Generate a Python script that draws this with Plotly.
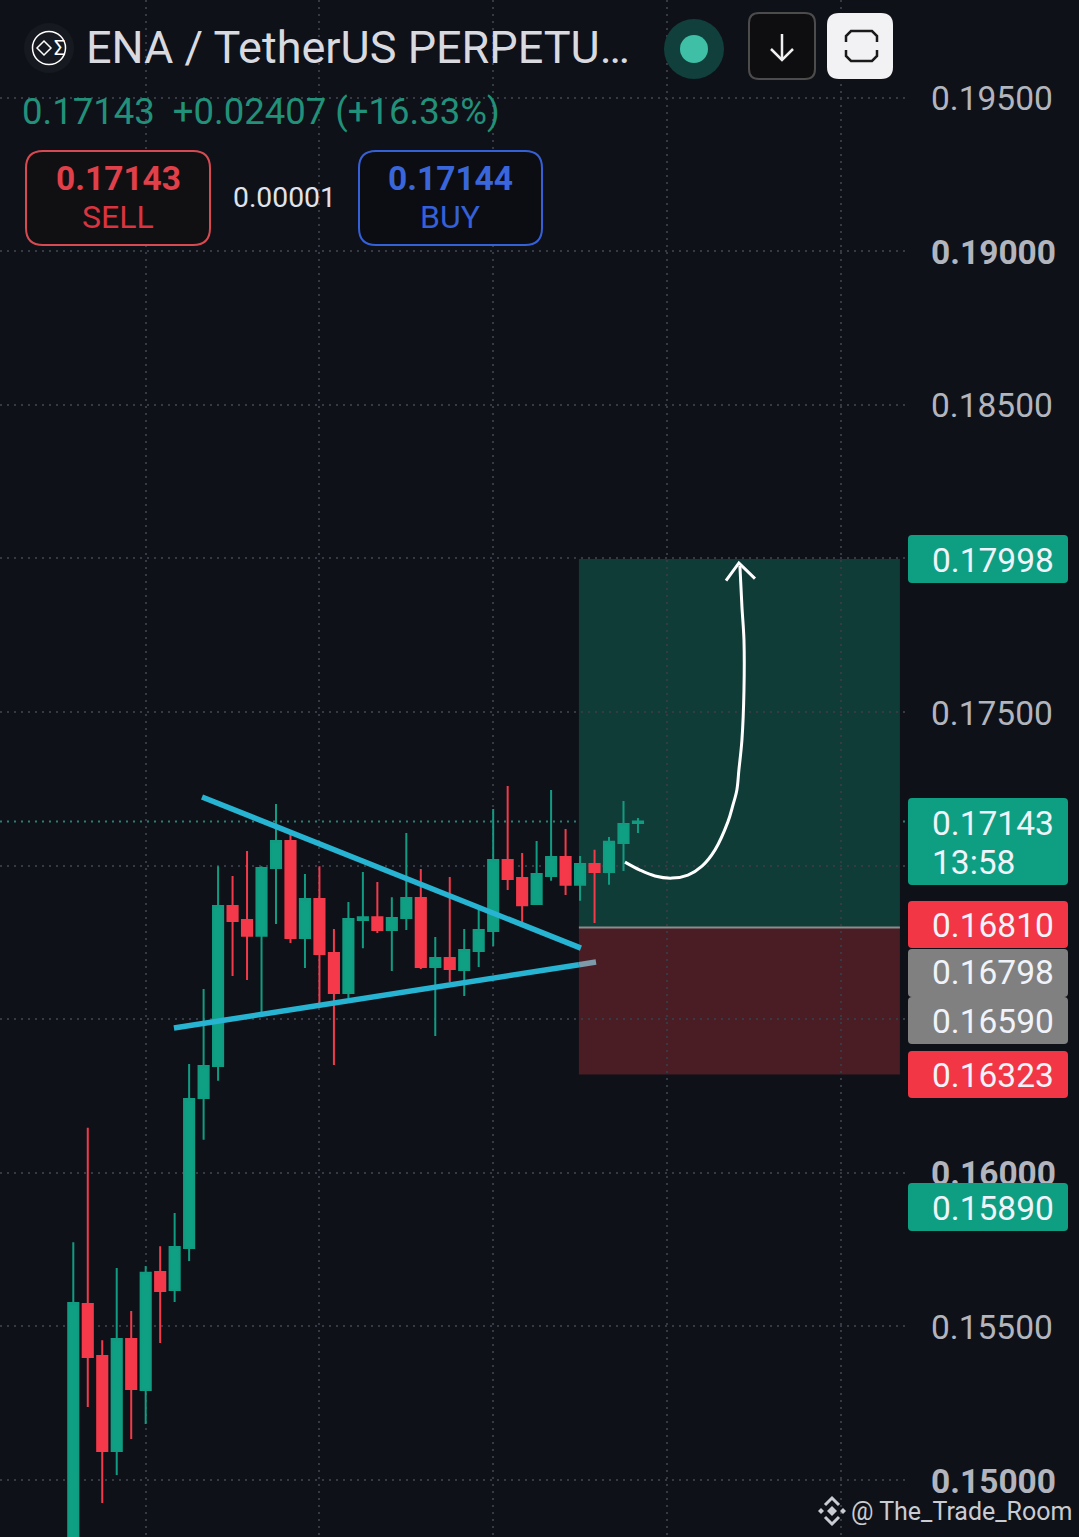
import plotly.graph_objects as go

W = 1079
H = 1537

# candles
opens = [.1461, .15573, .15403, .15094, .15459, .15293, .15677, .15618, .15755, .16243,
         .16347, .16868, .16823, .16771, .16992, .17080, .16764, .16891, .16715, .16585,
         .16823, .16832, .16790, .16829, .16894, .16670, .16699, .16660, .16722, .16787,
         .17018, .16959, .16875, .16966, .17028, .16937, .17005, .16979, .17073, .17138]
closes = [.15576, .15400, .15094, .15459, .15296, .15674, .15615, .15758, .16240, .16347,
          .16868, .16819, .16771, .16992, .17080, .16764, .16891, .16712, .16585, .16826,
          .16832, .16790, .16829, .16894, .16670, .16699, .16663, .16725, .16790, .17018,
          .16956, .16871, .16972, .17028, .16937, .17005, .16979, .17077, .17135, .17143]
highs = [.15774, .16146, .15455, .15690, .15550, .15696, .15761, .15869, .16354, .16598,
         .16998, .16966, .17047, .16998, .17200, .17116, .16972, .16998, .16793, .16881,
         .16979, .16946, .16897, .17106, .16989, .16767, .16963, .16793, .16871, .17184,
         .17259, .17041, .17080, .17246, .17119, .17031, .17051, .17093, .17210, .17155]
lows = [.1455, .15237, .14925, .15016, .15133, .15182, .15446, .15579, .15713, .16107,
        .16299, .16640, .16627, .16523, .16810, .16748, .16666, .16552, .16351, .16569,
        .16731, .16780, .16657, .16790, .16663, .16445, .16621, .16575, .16670, .16738,
        .16920, .16816, .16875, .16950, .16904, .16885, .16813, .16937, .16982, .17106]
candle_x = list(range(len(opens)))

# axis
price_ticks = [.195, .19, .185, .18, .175, .17, .165, .16, .155, .15]
price_labels = ["0.19500", "<b>0.19000</b>", "0.18500", "", "0.17500", "", "",
                "<b>0.16000</b>", "0.15500", "<b>0.15000</b>"]
time_ticks = [5, 17, 29, 41, 53]

# long position
target_price = 0.17998
entry_price = 0.16798
stop_price = 0.16320
last_price = 0.17143
box_x = [34.92, 57.09]

# drawings
upper_x = [8.89, 35.06]
upper_p = [.17223, .16731]
lower_x = [6.95, 34.92]
lower_p = [.16471, .16677]
lower_end_x = [34.92, 36.1]
lower_end_p = [.16677, .16686]
curve_x = [38.10, 39.14, 40.17, 41.35, 42.45, 43.42, 44.32, 45.21, 45.56, 45.83, 45.97, 46.18, 46.32, 46.32, 46.18, 46.04]
curve_p = [.17011, .16985, .16966, .16959, .16969, .16998, .17051, .17142, .17197, .17246, .17311, .17409, .17571, .17734, .17842, .17975]
head_x = [45.08, 45.97, 47.08]
head_p = [.17927, .17985, .17934]

# right side price tags: label, top, bottom, colour
GREEN = "#0E9F82"
RED = "#F23645"
GREY = "#808080"
tag_labels = ["0.17998", "0.17143", "0.16810", "0.16798", "0.16590", "0.16323", "0.15890"]
tag_tops = [535, 798, 901, 949, 997, 1051, 1183]
tag_bottoms = [583, 885, 948, 997, 1044, 1098, 1231]
tag_text_y = [560, 823, 925, 973, 1021, 1075, 1208]
tag_colors = [GREEN, GREEN, RED, GREY, GREY, RED, GREEN]


def px(x):
    return x / W


def py(y):
    return 1 - y / H


def round_rect(x0, y0, x1, y1, r):
    X0, X1, Y0, Y1, RX, RY = px(x0), px(x1), py(y0), py(y1), r / W, r / H
    return (f"M {X0+RX} {Y0} L {X1-RX} {Y0} Q {X1} {Y0} {X1} {Y0-RY} "
            f"L {X1} {Y1+RY} Q {X1} {Y1} {X1-RX} {Y1} L {X0+RX} {Y1} "
            f"Q {X0} {Y1} {X0} {Y1+RY} L {X0} {Y0-RY} Q {X0} {Y0} {X0+RX} {Y0} Z")


def poly(points, close=True):
    s = "M " + " L ".join(f"{px(a)} {py(b)}" for a, b in points)
    return s + (" Z" if close else "")


def paper_shape(path, fill="rgba(0,0,0,0)", line="rgba(0,0,0,0)", width=0):
    return dict(type="path", xref="paper", yref="paper", path=path, fillcolor=fill,
                line=dict(color=line, width=width), layer="above")


def circle(cx, cy, r, fill="rgba(0,0,0,0)", line="rgba(0,0,0,0)", width=0):
    return dict(type="circle", xref="paper", yref="paper", x0=px(cx - r), x1=px(cx + r),
                y0=py(cy + r), y1=py(cy - r), fillcolor=fill,
                line=dict(color=line, width=width), layer="above")


def label(text, x, y, size, color, anchor="left"):
    return dict(text=text, x=px(x), y=py(y), xref="paper", yref="paper", showarrow=False,
                xanchor=anchor, yanchor="middle", align="left",
                font=dict(family="Roboto", size=size, color=color))


fig = go.Figure()
fig.add_trace(go.Candlestick(x=candle_x, open=opens, high=highs, low=lows, close=closes,
                             whiskerwidth=0,
                             increasing=dict(line=dict(color="#119C82", width=2), fillcolor="#0F9F82"),
                             decreasing=dict(line=dict(color="#F23A4B", width=2), fillcolor="#F5394B")))
fig.add_trace(go.Scatter(x=upper_x, y=upper_p, mode="lines", line=dict(color="#27B4D2", width=5.5)))
fig.add_trace(go.Scatter(x=lower_x, y=lower_p, mode="lines", line=dict(color="#27B4D2", width=5.5)))
fig.add_trace(go.Scatter(x=lower_end_x, y=lower_end_p, mode="lines", line=dict(color="#7D9AAA", width=5.5)))
fig.add_trace(go.Scatter(x=curve_x, y=curve_p, mode="lines",
                         line=dict(color="#FFFFFF", width=3, shape="spline")))
fig.add_trace(go.Scatter(x=head_x, y=head_p, mode="lines", line=dict(color="#FFFFFF", width=3)))

shapes = [
    dict(type="rect", xref="x", yref="y", x0=box_x[0], x1=box_x[1], y0=entry_price, y1=target_price,
         fillcolor="#103C38", line=dict(width=0), layer="below"),
    dict(type="rect", xref="x", yref="y", x0=box_x[0], x1=box_x[1], y0=stop_price, y1=entry_price,
         fillcolor="#4A1D25", line=dict(width=0), layer="below"),
    dict(type="line", xref="x", yref="y", x0=box_x[0], x1=box_x[1], y0=entry_price, y1=entry_price,
         line=dict(color="#8C8C8C", width=2), layer="below"),
    dict(type="line", xref="paper", yref="y", x0=0, x1=907 / W, y0=last_price, y1=last_price,
         line=dict(color="#2C7F70", width=2, dash="2px,5px"), layer="below"),
    # logo
    circle(49, 48, 25, fill="#161A20"),
    circle(49, 48, 16.5, line="#FFFFFF", width=1.5),
    paper_shape(poly([(37, 48), (44, 41), (51, 48), (44, 55)]), line="#FFFFFF", width=1.5),
    # status dot
    circle(694, 49, 30, fill="#113F3C"),
    circle(694, 49, 14, fill="#3FBFA5"),
    # sell / buy
    paper_shape(round_rect(26, 151, 210, 245, 17), fill="#100F12", line="#D84A52", width=2),
    paper_shape(round_rect(359, 151, 542, 245, 17), fill="#0C0D12", line="#3560D8", width=2),
    # buttons
    paper_shape(round_rect(749, 13, 815, 79, 10), fill="#0E0E10", line="#4C4C4C", width=2),
    paper_shape(poly([(782, 34), (782, 60)], False), line="#F0F0F0", width=2.5),
    paper_shape(poly([(771, 49), (782, 60), (793, 49)], False), line="#F0F0F0", width=2.5),
    paper_shape(round_rect(827, 13, 893, 79, 12), fill="#F2F2F4"),
    paper_shape(poly([(846, 42), (846, 36), (851, 31), (872, 31), (877, 36), (877, 42)], False), line="#1A1A1A", width=2.5),
    paper_shape(poly([(846, 50), (846, 56), (851, 61), (872, 61), (877, 56), (877, 50)], False), line="#1A1A1A", width=2.5),
    # watermark logo
    paper_shape(poly([(832, 1506), (837, 1511), (832, 1516), (827, 1511)]), fill="#C9CCD2"),
    paper_shape(poly([(821, 1508), (824, 1511), (821, 1514), (818, 1511)]), fill="#C9CCD2"),
    paper_shape(poly([(843, 1508), (846, 1511), (843, 1514), (840, 1511)]), fill="#C9CCD2"),
    paper_shape(poly([(825, 1505), (832, 1498), (839, 1505)], False), line="#C9CCD2", width=3),
    paper_shape(poly([(825, 1517), (832, 1524), (839, 1517)], False), line="#C9CCD2", width=3),
]
for top, bottom, color in zip(tag_tops, tag_bottoms, tag_colors):
    shapes.append(paper_shape(round_rect(908, top, 1068, bottom, 4), fill=color))

annotations = [
    label("ENA / TetherUS PERPETU…", 84, 47, 45, "#D8DAE0"),
    label("Σ", 52, 48, 20, "#FFFFFF"),
    label("0.17143  +0.02407 (+16.33%)", 20, 111, 36.5, "#22917A"),
    label("<b>0.17143</b>", 118, 178, 33.5, "#E0404A", "center"),
    label("SELL", 118, 217, 32, "#D9343F", "center"),
    label("0.00001", 284, 197, 28.3, "#E0E3EB", "center"),
    label("<b>0.17144</b>", 450, 178, 33.5, "#3A66DB", "center"),
    label("BUY", 450, 217, 32, "#3560D8", "center"),
    label("@ The_Trade_Room", 849, 1511, 25, "#C9CCD2"),
    label("13:58", 930, 862, 33.5, "#F0F3FA"),
]
for text, y in zip(tag_labels, tag_text_y):
    annotations.append(label(text, 930, y, 33.5, "#F0F3FA"))

fig.update_layout(
    width=W,
    height=H,
    margin=dict(l=0, r=0, t=0, b=0),
    paper_bgcolor="#0F1118",
    plot_bgcolor="#0F1118",
    showlegend=False,
    boxgap=0.3,
    boxgroupgap=0,
    shapes=shapes,
    annotations=annotations,
    xaxis=dict(domain=[0, 907 / W], range=[-5.062, 57.58], tickvals=time_ticks, showticklabels=False,
               ticks="", rangeslider=dict(visible=False), zeroline=False, showline=False,
               gridcolor="#363A45", griddash="2px,5px", gridwidth=2),
    yaxis=dict(side="right", range=[0.148142, 0.198174], tickvals=price_ticks, ticktext=price_labels,
               ticks="", ticklabelstandoff=23, ticklabelshift=1, zeroline=False, showline=False,
               tickfont=dict(family="Roboto", size=33.5, color="#B2B5BE"),
               gridcolor="#363A45", griddash="2px,5px", gridwidth=2),
)

fig.write_html("out.html", config={"displayModeBar": False},
               post_script="document.body.style.margin='0';document.body.style.overflow='hidden';")
